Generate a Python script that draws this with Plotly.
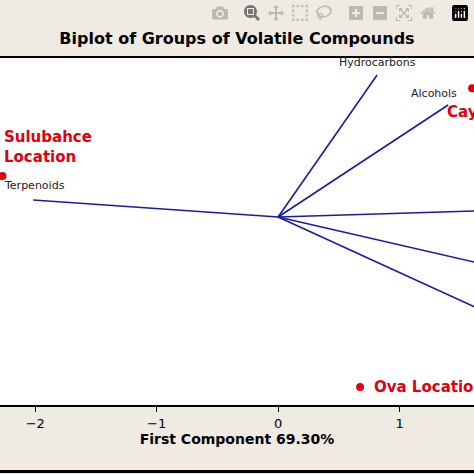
import plotly.graph_objects as go

# loading vectors (first, second component)
var_names = ['Hydrocarbons', 'Alcohols', 'Esters', 'Ketones', 'Aldehydes', 'Terpenoids']
var_x = [0.815, 1.40, 1.90, 1.90, 1.75, -2.016]
var_y = [1.169, 0.922, 0.058, -0.436, -0.80, 0.14]

# location scores
loc_names = ['Sulubahce<br>Location', 'Cayirli Location', 'Ova Location']
loc_x = [-2.27, 1.597, 0.675]
loc_y = [0.337, 1.06, -1.40]

BLUE = '#1a1aa6'
RED = '#e0000f'

traces = []
for x, y in zip(var_x, var_y):
    traces.append(go.Scatter(x=[0, x], y=[0, y], mode='lines',
                             line=dict(color=BLUE, width=1.6), hoverinfo='skip'))

traces.append(go.Scatter(x=loc_x, y=loc_y, mode='markers',
                         marker=dict(color=RED, size=8), cliponaxis=False))

annotations = [
    dict(x=var_x[0], y=var_y[0], text=var_names[0], showarrow=False, yshift=12),
    dict(x=var_x[1], y=var_y[1], text=var_names[1], showarrow=False, yshift=11, xshift=-14),
    dict(x=var_x[4], y=var_y[4], text=var_names[4], showarrow=False, xshift=-44, yshift=17,
         xanchor='left'),
    dict(x=var_x[5], y=var_y[5], text=var_names[5], showarrow=False, xshift=-31, yshift=14,
         xanchor='left'),
]
for a in annotations:
    a['font'] = dict(family='DejaVu Sans', size=11, color='#222')

red_font = dict(family='DejaVu Sans', size=15, color=RED, weight='bold')
annotations += [
    dict(x=loc_x[0], y=loc_y[0], text=loc_names[0], showarrow=False, xanchor='left',
         yanchor='bottom', yshift=8, align='left', font=red_font),
    dict(x=loc_x[1], y=loc_y[1], text=loc_names[1], showarrow=False, xanchor='left',
         xshift=-27, yshift=-24, font=red_font),
    dict(x=loc_x[2], y=loc_y[2], text=loc_names[2], showarrow=False, xanchor='left',
         xshift=12, font=red_font),
]

layout = dict(
    width=474,
    height=474,
    showlegend=False,
    paper_bgcolor='#efebe3',
    plot_bgcolor='white',
    margin=dict(l=0, r=0, t=57, b=68),
    title=dict(text='<b>Biplot of Groups of Volatile Compounds</b>', x=0.5, y=0.93,
               font=dict(family='DejaVu Sans', size=16, color='black')),
    xaxis=dict(
        range=[-2.29, 1.613],
        tickvals=[-2, -1, 0, 1],
        ticks='outside', ticklen=5, tickcolor='black',
        showgrid=False, zeroline=False, showline=False,
        tickfont=dict(family='DejaVu Sans', size=13, color='black'),
        title=dict(text='<b>First Component 69.30%</b>', standoff=4,
                   font=dict(family='DejaVu Sans', size=14, color='black')),
    ),
    yaxis=dict(
        range=[-1.556, 1.317],
        showticklabels=False, showgrid=False, zeroline=False, showline=False,
    ),
    annotations=annotations,
    shapes=[
        dict(type='line', xref='paper', yref='paper', x0=0, x1=1, y0=1, y1=1,
             line=dict(color='black', width=2)),
        dict(type='line', xref='paper', yref='paper', x0=0, x1=1, y0=0, y1=0,
             line=dict(color='black', width=2)),
        dict(type='line', xref='paper', yref='paper', x0=0, x1=1, y0=-0.188, y1=-0.188,
             line=dict(color='black', width=3)),
    ],
)

fig = go.Figure(data=traces, layout=layout)
fig.write_html('out.html', post_script="document.body.style.margin='0';")
